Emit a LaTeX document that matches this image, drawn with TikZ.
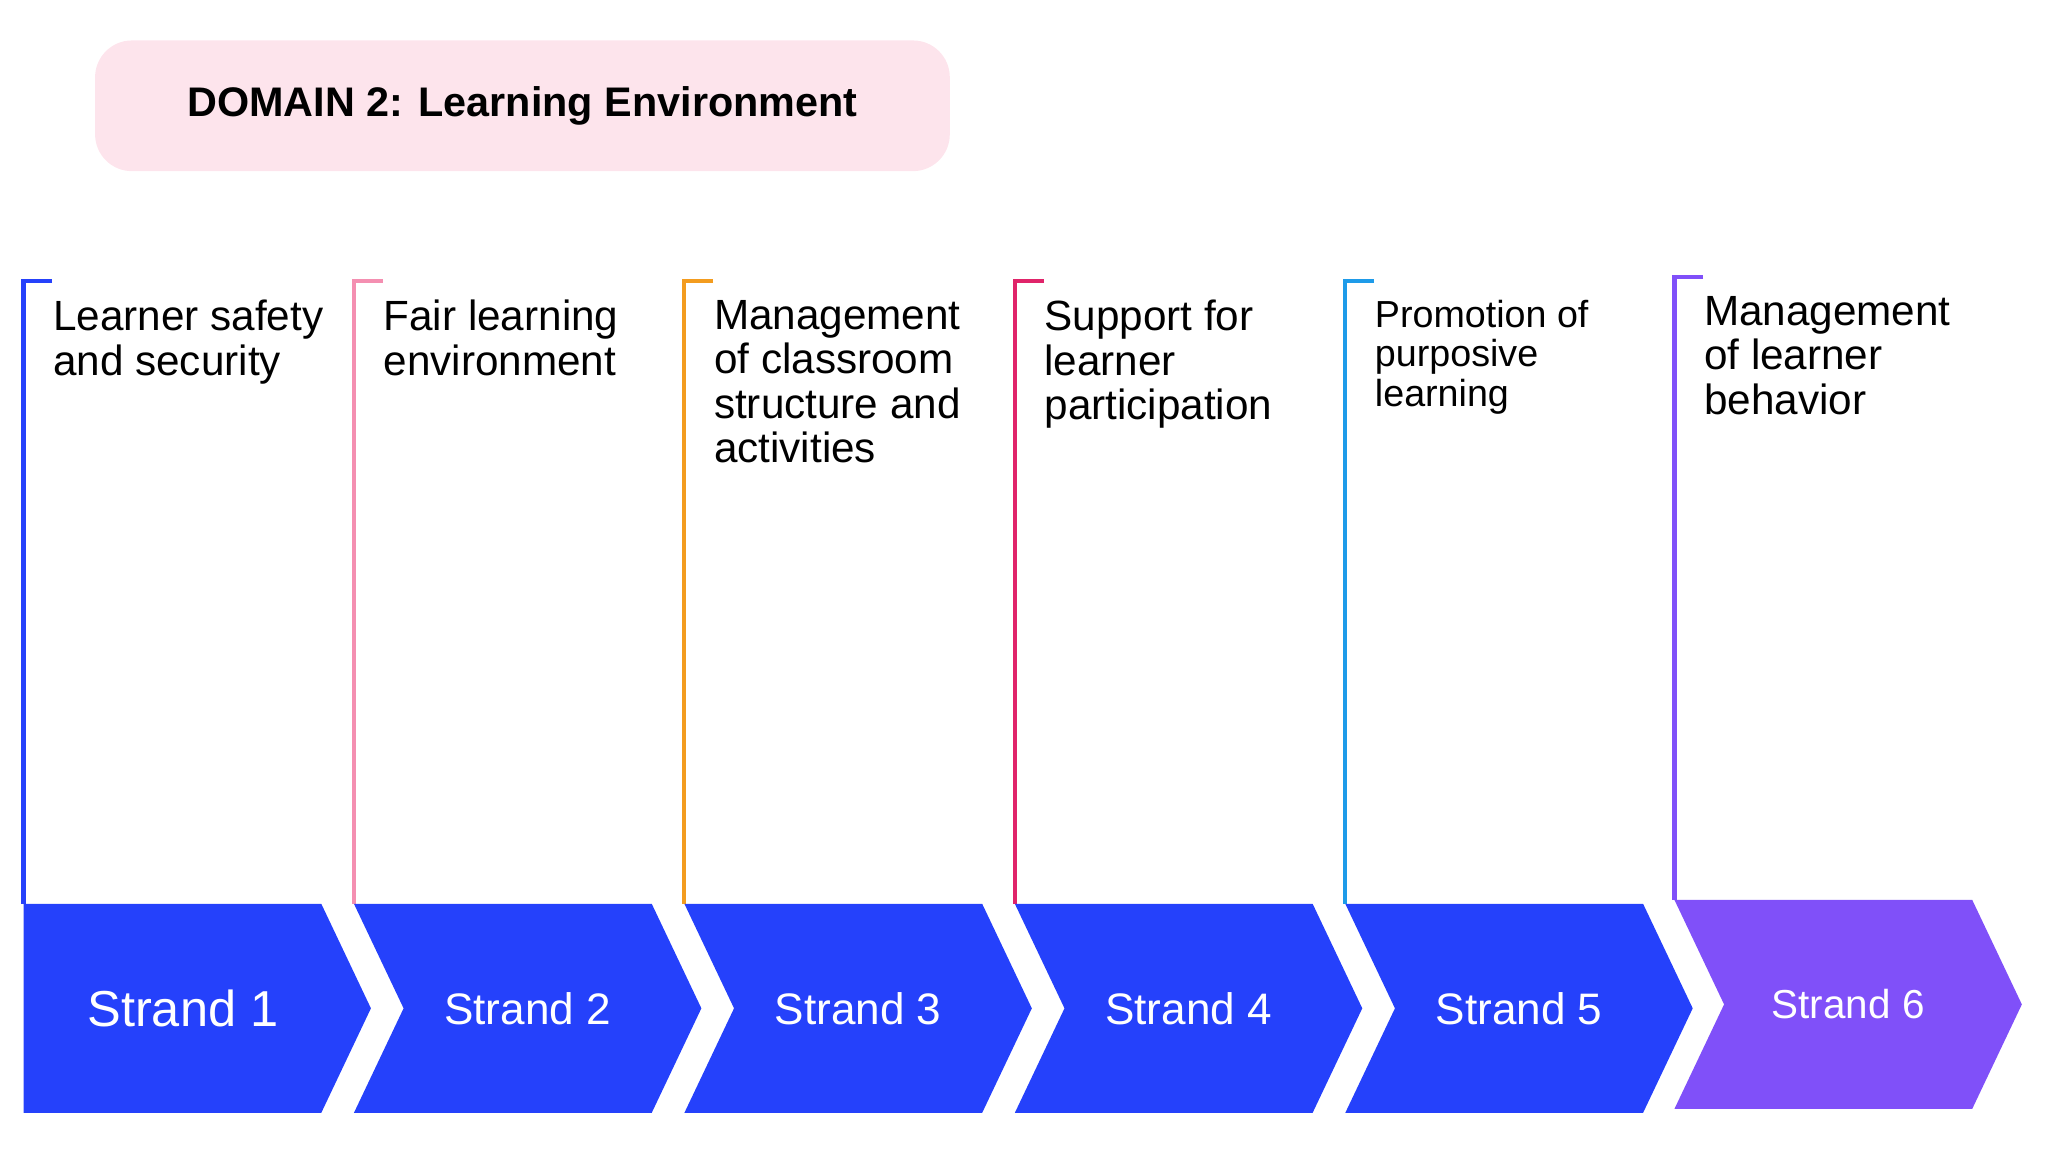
\documentclass[tikz,border=0pt]{standalone}
\usepackage{fontspec}
\setmainfont{Liberation Sans}
\definecolor{sblue}{HTML}{2541FB}
\definecolor{spurple}{HTML}{8050F9}
\definecolor{lpink}{HTML}{F48FB1}
\definecolor{lorange}{HTML}{F39C1F}
\definecolor{lcrim}{HTML}{E0246A}
\definecolor{lsky}{HTML}{1E9BE9}
\definecolor{tpink}{HTML}{FDE4EC}
\begin{document}
\begin{tikzpicture}[x=0.01cm,y=-0.01cm,
  lab/.style={anchor=north west,align=left,inner sep=0pt,font=\fontsize{9.2}{9.7}\selectfont},
  slab/.style={text=white,font=\fontsize{9.6}{11}\selectfont},
  brk/.style={line width=0.9pt}]
\useasboundingbox (0,0) rectangle (1568,882);
\node[fill=tpink,rounded corners=8pt,minimum width=6.54cm,minimum height=1cm,font=\fontsize{9}{11}\selectfont\bfseries] (title) at (400,81) {DOMAIN 2: Learning Environment};
% columns
\foreach \i/\x/\c/\t/\top/\fill in {1/18/sblue/{Learner safety\\and security}/215/sblue,
  2/271/lpink/{Fair learning\\environment}/215/sblue,
  3/524/lorange/{Management\\of classroom\\structure and\\activities}/215/sblue,
  4/777/lcrim/{Support for\\learner\\participation}/215/sblue}{
  \draw[brk,\c] (\x+22,\top) -- (\x,\top) -- (\x,692);
  \node[lab] (t\i) at (\x+22,229) {\t};
}
\draw[brk,lsky] (1052,215) -- (1030,215) -- (1030,692);
\node[lab,font=\fontsize{8.2}{8.6}\selectfont] (t5) at (1052,229) {Promotion of\\purposive\\learning};
\draw[brk,spurple] (1304,212) -- (1282,212) -- (1282,689);
\node[lab] (t6) at (1304,226) {Management\\of learner\\behavior};
% chevrons
\fill[sblue] (18,692) -- (246,692) -- (284,772) -- (246,852) -- (18,852) -- cycle;
\node[slab,font=\fontsize{11}{12}\selectfont] (s1) at (140,772) {Strand 1};
\foreach \i/\x in {2/271,3/524,4/777,5/1030}{
  \fill[sblue] (\x,692) -- (\x+228,692) -- (\x+266,772) -- (\x+228,852) -- (\x,852) -- (\x+38,772) -- cycle;
  \node[slab] (s\i) at (\x+133,772) {Strand \i};
}
\fill[spurple] (1282,689) -- (1510,689) -- (1548,769) -- (1510,849) -- (1282,849) -- (1320,769) -- cycle;
\node[slab,font=\fontsize{8.8}{10}\selectfont] (s6) at (1415,769) {Strand 6};
\end{tikzpicture}
\end{document}
